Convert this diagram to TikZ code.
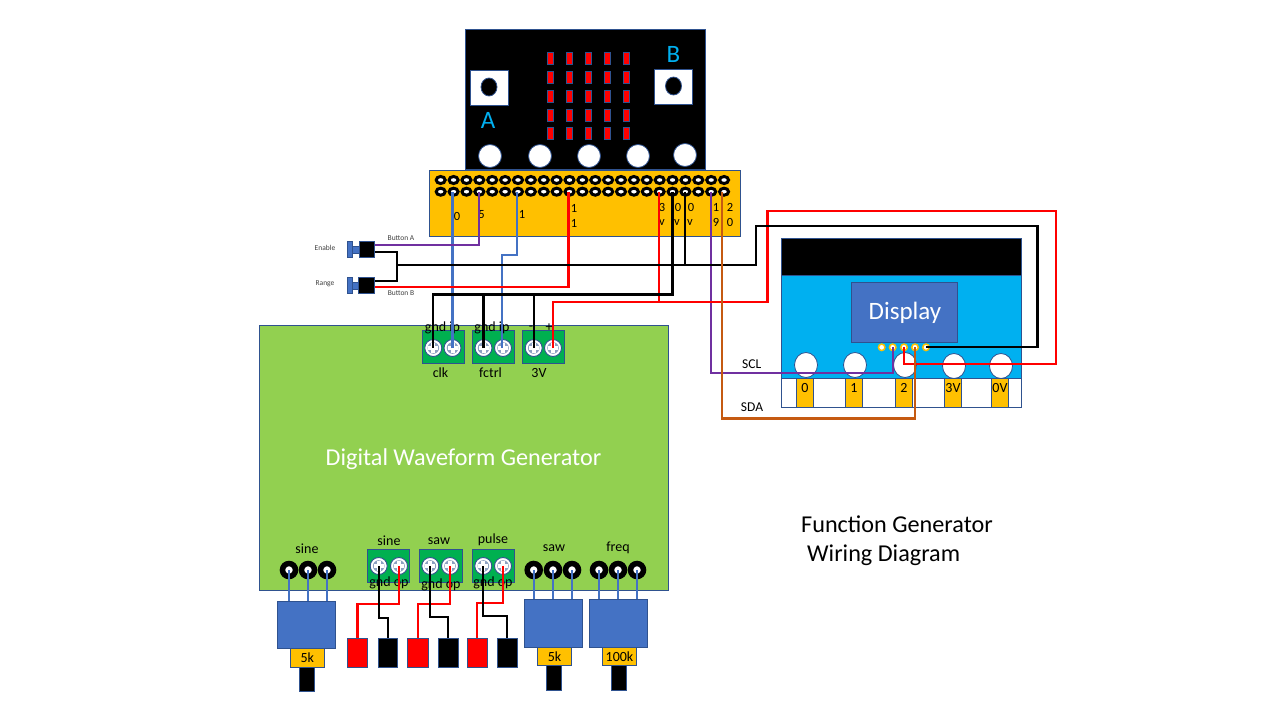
\documentclass[tikz,border=0pt]{standalone}
\usepackage{fontspec}
\setmainfont{Carlito}
\definecolor{edgeb}{HTML}{2F528F}
\definecolor{fillb}{HTML}{4472C4}
\definecolor{yel}{HTML}{FFC000}
\definecolor{lgreen}{HTML}{92D050}
\definecolor{tgreen}{HTML}{00B050}
\definecolor{cyanb}{HTML}{00B0F0}
\definecolor{wpurple}{HTML}{7030A0}
\definecolor{worange}{HTML}{C55A11}
\newcommand{\fs}[1]{\fontsize{#1}{#1}\selectfont}
\tikzset{
  box/.style={draw=edgeb,line width=0.8pt,inner sep=0pt,outer sep=0pt},
  txt/.style={inner sep=0pt,outer sep=0pt,text=black,font=\fs{12.5}},
  lbl/.style={txt,font=\fs{14}},
  hole/.style={ellipse,draw=black,fill=white,line width=3pt,minimum width=9pt,minimum height=7pt,inner sep=0pt},
  screwn/.style={circle,draw=edgeb,fill=white,line width=0.9pt,minimum size=17pt,inner sep=0pt},
  jack/.style={circle,draw=black,fill=white,line width=5.5pt,minimum size=13pt,inner sep=0pt},
  pinn/.style={circle,draw=yel,fill=white,line width=1.5pt,minimum size=6.5pt,inner sep=0pt},
  wire/.style={line width=2.1pt,line join=miter},
  potw/.style={line width=2.1pt,draw=fillb}
}
\newcommand{\rbox}[6]{% name, x0,y0,x1,y1, fill
  \node[box,fill=#6,anchor=north west,minimum width=#4pt-#2pt,minimum height=#5pt-#3pt] (#1) at (#2,#3) {};}
\newcommand{\screw}[3]{%
  \node[screwn] (#1) at (#2,#3) {};
  \fill[edgeb!55] (#1.center) circle (5.8pt);
  \fill[white] ($(#1.center)+(-5,-2)$) rectangle ($(#1.center)+(5,2)$);
  \fill[white] ($(#1.center)+(-2,-5)$) rectangle ($(#1.center)+(2,5)$);
}
\usetikzlibrary{calc,shapes.geometric}
\begin{document}
\begin{tikzpicture}[x=1pt,y=-1pt]
\useasboundingbox (0,0) rectangle (1280,720);
\fill[white] (0,0) rectangle (1280,720);

% micro:bit
\rbox{mb}{465.7}{29.3}{705.7}{169}{black}
\rbox{btnA}{470.3}{70.7}{508.7}{105.7}{white}
\rbox{btnB}{654.3}{69.7}{692.7}{104.3}{white}
\node[ellipse,box,fill=black,minimum width=16pt,minimum height=18pt] (holeA) at (489,87) {};
\node[ellipse,box,fill=black,minimum width=16pt,minimum height=18pt] (holeB) at (673.5,86) {};
\node[text=cyanb,font=\fs{25},inner sep=0pt] (labA) at (488,120) {A};
\node[text=cyanb,font=\fs{25},inner sep=0pt] (labB) at (673.5,54) {B};
\foreach \cx in {550,569,588,607,626}
  \foreach \cy in {58.5,77.3,96.5,115,133}
    \node[box,fill=red,minimum width=6pt,minimum height=12pt,line width=0.4pt] at (\cx,\cy) {};
\foreach \n/\cx/\cy in {1/490/156,2/540/156,3/589/156,4/638/156,5/685/155}
  \node[circle,box,fill=white,minimum size=23pt] (mbp\n) at (\cx,\cy) {};

% edge connector
\rbox{edge}{429.5}{170.7}{740.5}{236}{yel}
\foreach \i in {1,...,23} {
  \node[hole] (ha\i) at ({440.7+12.88*(\i-1)},180) {};
  \node[hole] (hb\i) at ({440.7+12.88*(\i-1)},191.7) {};
}
\foreach \t/\cx/\cy in {0/457/216,5/481.5/215,1/522/214,1/574/208,1/574/223,3/662/207,v/662/223,0/678/207,v/677/223,0/691/207,v/690/223,1/716/207,9/716/222,2/730/207,0/730/222}
  \node[txt] at (\cx,\cy) {\t};

% generator
\rbox{gen}{259.5}{325}{668}{590.5}{lgreen}
\node[text=white,font=\fs{24.2},inner sep=0pt] (gentxt) at (463.5,459) {Digital Waveform Generator};

% terminal blocks
\rbox{tclk}{422.3}{330.3}{464.7}{363.3}{tgreen}
\rbox{tfc}{472.3}{330.3}{514.3}{363.3}{tgreen}
\rbox{tv}{522.3}{330.3}{564.7}{363.3}{tgreen}
\rbox{tsine}{367.3}{549.3}{409.3}{582.7}{tgreen}
\rbox{tsaw}{419.3}{549.3}{462}{582.7}{tgreen}
\rbox{tpulse}{472.3}{549.3}{514.3}{582.7}{tgreen}
\screw{s1}{433.3}{348}\screw{s2}{452.5}{348}
\screw{s3}{483.5}{348}\screw{s4}{503}{348}
\screw{s5}{533.7}{348}\screw{s6}{553}{348}
\screw{b1}{378.7}{566}\screw{b2}{399}{566}
\screw{b3}{430.3}{566}\screw{b4}{450}{566}
\screw{b5}{483.3}{566}\screw{b6}{503}{566}

% block labels
\node[lbl] (l1) at (442.5,327.5) {gnd ip};
\node[lbl] (l2) at (492,327.5) {gnd ip};
\node[lbl] (l3) at (531,328.5) {-};
\node[lbl] (l4) at (549,328) {+};
\node[lbl] (l5) at (440.5,373) {clk};
\node[lbl] (l6) at (490.5,373) {fctrl};
\node[lbl] (l7) at (539,373) {3V};
\node[lbl] (l8) at (389,541) {sine};
\node[lbl] (l9) at (439,541) {saw};
\node[lbl] (l10) at (493,540) {pulse};
\node[lbl] (l11) at (389,583) {gnd op};
\node[lbl] (l12) at (441,585) {gnd op};
\node[lbl] (l13) at (493,583) {gnd op};
\node[lbl] (l14) at (307,549) {sine};
\node[lbl] (l15) at (554,548) {saw};
\node[lbl] (l16) at (618,548) {freq};

% pots
\rbox{p1}{277.3}{601.3}{335.7}{648.3}{fillb}
\rbox{p1y}{290.3}{648.3}{324.3}{667.3}{yel}
\rbox{p1s}{299.3}{667.3}{314.3}{691.3}{black}
\rbox{p2}{524.3}{599.3}{582.7}{647.3}{fillb}
\rbox{p2y}{537.3}{647.3}{571.7}{665.3}{yel}
\rbox{p2s}{546.3}{665.3}{561.7}{690.7}{black}
\rbox{p3}{589.3}{599.3}{647.7}{647.3}{fillb}
\rbox{p3y}{602.3}{647.3}{636.7}{665.3}{yel}
\rbox{p3s}{611.3}{665.3}{626.7}{690.7}{black}
\node[lbl] at (p1y) {5k};
\node[lbl] at (p2y) {5k};
\node[lbl] at (p3y) {100k};
\foreach \n/\cx in {a/289,b/308,c/327,d/533.7,e/553,f/572,g/599,h/618,i/637}
  \node[jack] (j\n) at (\cx,570) {};
\foreach \n in {a,b,c} \draw[potw] (j\n.center) -- (j\n.center |- p1.north);
\foreach \n in {d,e,f} \draw[potw] (j\n.center) -- (j\n.center |- p2.north);
\foreach \n in {g,h,i} \draw[potw] (j\n.center) -- (j\n.center |- p3.north);

% output connectors
\rbox{r1}{347.3}{638.3}{367.7}{667.3}{red}
\rbox{k1}{378.3}{638.3}{397.7}{667.3}{black}
\rbox{r2}{407.5}{638.3}{428}{667.3}{red}
\rbox{k2}{438.5}{638.3}{458.3}{667.3}{black}
\rbox{r3}{467.3}{638.3}{487}{667.3}{red}
\rbox{k3}{497.3}{638.3}{517.3}{667.3}{black}
\coordinate (c1) at (0,604.3);
\coordinate (c2) at (0,618);
\coordinate (c3) at (0,617);
\coordinate (c4) at (0,603);
\coordinate (c5) at (0,616);
\draw[wire,red] (b2.center) |- (r1.north |- c1) -- (r1.north);
\draw[wire,black] (b1.center) |- (k1.north |- c2) -- (k1.north);
\draw[wire,red] (b4.center) |- (r2.north |- c1) -- (r2.north);
\draw[wire,black] (b3.center) |- (k2.north |- c3) -- (k2.north);
\draw[wire,red] (b6.center) |- (r3.north |- c4) -- (r3.north);
\draw[wire,black] (b5.center) |- (k3.north |- c5) -- (k3.north);

% switches
\rbox{swAp}{347.3}{241.3}{352.7}{257.3}{fillb}
\rbox{swAs}{352.7}{246}{359.3}{253}{fillb}
\rbox{swA}{359.3}{241.3}{374.7}{257.3}{black}
\rbox{swBp}{347.3}{277.3}{352.7}{293.7}{fillb}
\rbox{swBs}{352.7}{282}{358.3}{289}{fillb}
\rbox{swB}{358.3}{277.3}{374.7}{293.7}{black}
\node[text=black!75,font=\fs{7.5},inner sep=0pt] (t1) at (325,247.5) {Enable};
\node[text=black!75,font=\fs{7.5},inner sep=0pt] (t2) at (325,284) {Range};
\node[text=black!75,font=\fs{7.5},inner sep=0pt] (t3) at (401,238) {Button A};
\node[text=black!75,font=\fs{7.5},inner sep=0pt] (t4) at (401,293) {Button B};

% display
\rbox{dsp}{781.5}{238.3}{1021.5}{378.5}{cyanb}
\rbox{dspk}{781.5}{238.3}{1021.5}{275.3}{black}
\rbox{dspw}{781.5}{378.5}{1021.5}{407.5}{white}
\rbox{dspb}{851.3}{282.3}{957.5}{342.3}{fillb}
\node[text=white,font=\fs{25},inner sep=0pt] at (905,312.5) {Display};
\foreach \n/\cx/\cy in {1/806/365,2/855/365,3/905/365,4/954/366,5/1001/366}
  \node[ellipse,box,fill=white,minimum width=23pt,minimum height=25pt] (de\n) at (\cx,\cy) {};
\foreach \n/\x/\xx/\t in {1/796.7/813.3/0,2/845.5/862.5/1,3/895.5/912.3/2,4/944.7/961.3/3V,5/991.7/1008.3/0V} {
  \rbox{dy\n}{\x}{378.5}{\xx}{407.5}{yel}
  \node[lbl,font=\fs{14}] at ($(dy\n.center)+(0,-5)$) {\t};
}
\foreach \n/\cx in {1/881.7,2/892.7,3/904,4/915,5/926}
  \node[pinn] (pin\n) at (\cx,347.3) {};
\node[txt,font=\fs{13.5}] (scl) at (751.7,364) {SCL};
\node[txt,font=\fs{13.5}] (sda) at (752,407) {SDA};

% named bends
\coordinate (y245) at (0,245);
\coordinate (y255) at (0,255);
\coordinate (y287) at (0,287.3);
\coordinate (y302) at (0,302);
\coordinate (y294) at (0,294.5);
\coordinate (y265) at (0,265);
\coordinate (y252) at (0,251.7);
\coordinate (y281) at (0,281);
\coordinate (y373) at (0,372.7);
\coordinate (y418) at (0,418.5);
\coordinate (y211) at (0,211);
\coordinate (y226) at (0,226);
\coordinate (y364) at (0,364);
\coordinate (x397) at (397,0);
\coordinate (x767) at (767.5,0);
\coordinate (x756) at (755.7,0);
\coordinate (x1037) at (1037.5,0);
\coordinate (x1056) at (1056,0);
\coordinate (x722) at (721.7,0);
\coordinate (x502) at (502,0);

% connectors: blue
\draw[wire,fillb] (s2.center) -- (s2.center |- hb2.center);
\draw[wire,fillb] (hb7.center) ++(-1,0) |- (x502 |- y255) -- (s4.center -| x502);
% purple
\draw[wire,wpurple] (hb4.center) |- (swA.east |- y245);
\draw[wire,wpurple] (hb22.center) |- (pin2.center |- y373) -- (pin2.center);
% red
\draw[wire,red] (hb11.center) ++(-1,0) |- (swB.east |- y287);
\draw[wire,red] (hb18.center) ++(-1,0) -- ++(0,110.3);
\draw[wire,red] (s6.center) |- (x767 |- y302) -- (x767 |- y211) -- (x1056 |- y211) -- (x1056 |- y364) -- (pin3.center |- y364) -- (pin3.center);
% black
\draw[wire,black] (hb19.center) |- (s1.center |- y294) -- (s1.center);
\draw[wire,black] (s3.center) -- (s3.center |- y294);
\draw[wire,black] (s5.center) -- (s5.center |- y294);
\draw[wire,black] (hb20.center) |- (x397 |- y265);
\draw[wire,black] (swA.east |- y252) -| (x397 |- y281) -- (swB.east |- y281);
\draw[wire,black] (x397 |- y265) -- (x756 |- y265) -- (x756 |- y226) -- (x1037 |- y226) -- (x1037 |- pin5.center) -- (pin5.center);
% orange
\draw[wire,worange] (x722 |- hb23.center) -- (x722 |- y418) -- (pin4.center |- y418) -- (pin4.center);

% title
\node[anchor=base west,inner sep=0pt,font=\fs{24.2}] (title1) at (801,532.5) {Function Generator};
\node[anchor=base west,inner sep=0pt,font=\fs{24.2}] (title2) at (807,561.5) {Wiring Diagram};
\end{tikzpicture}
\end{document}
